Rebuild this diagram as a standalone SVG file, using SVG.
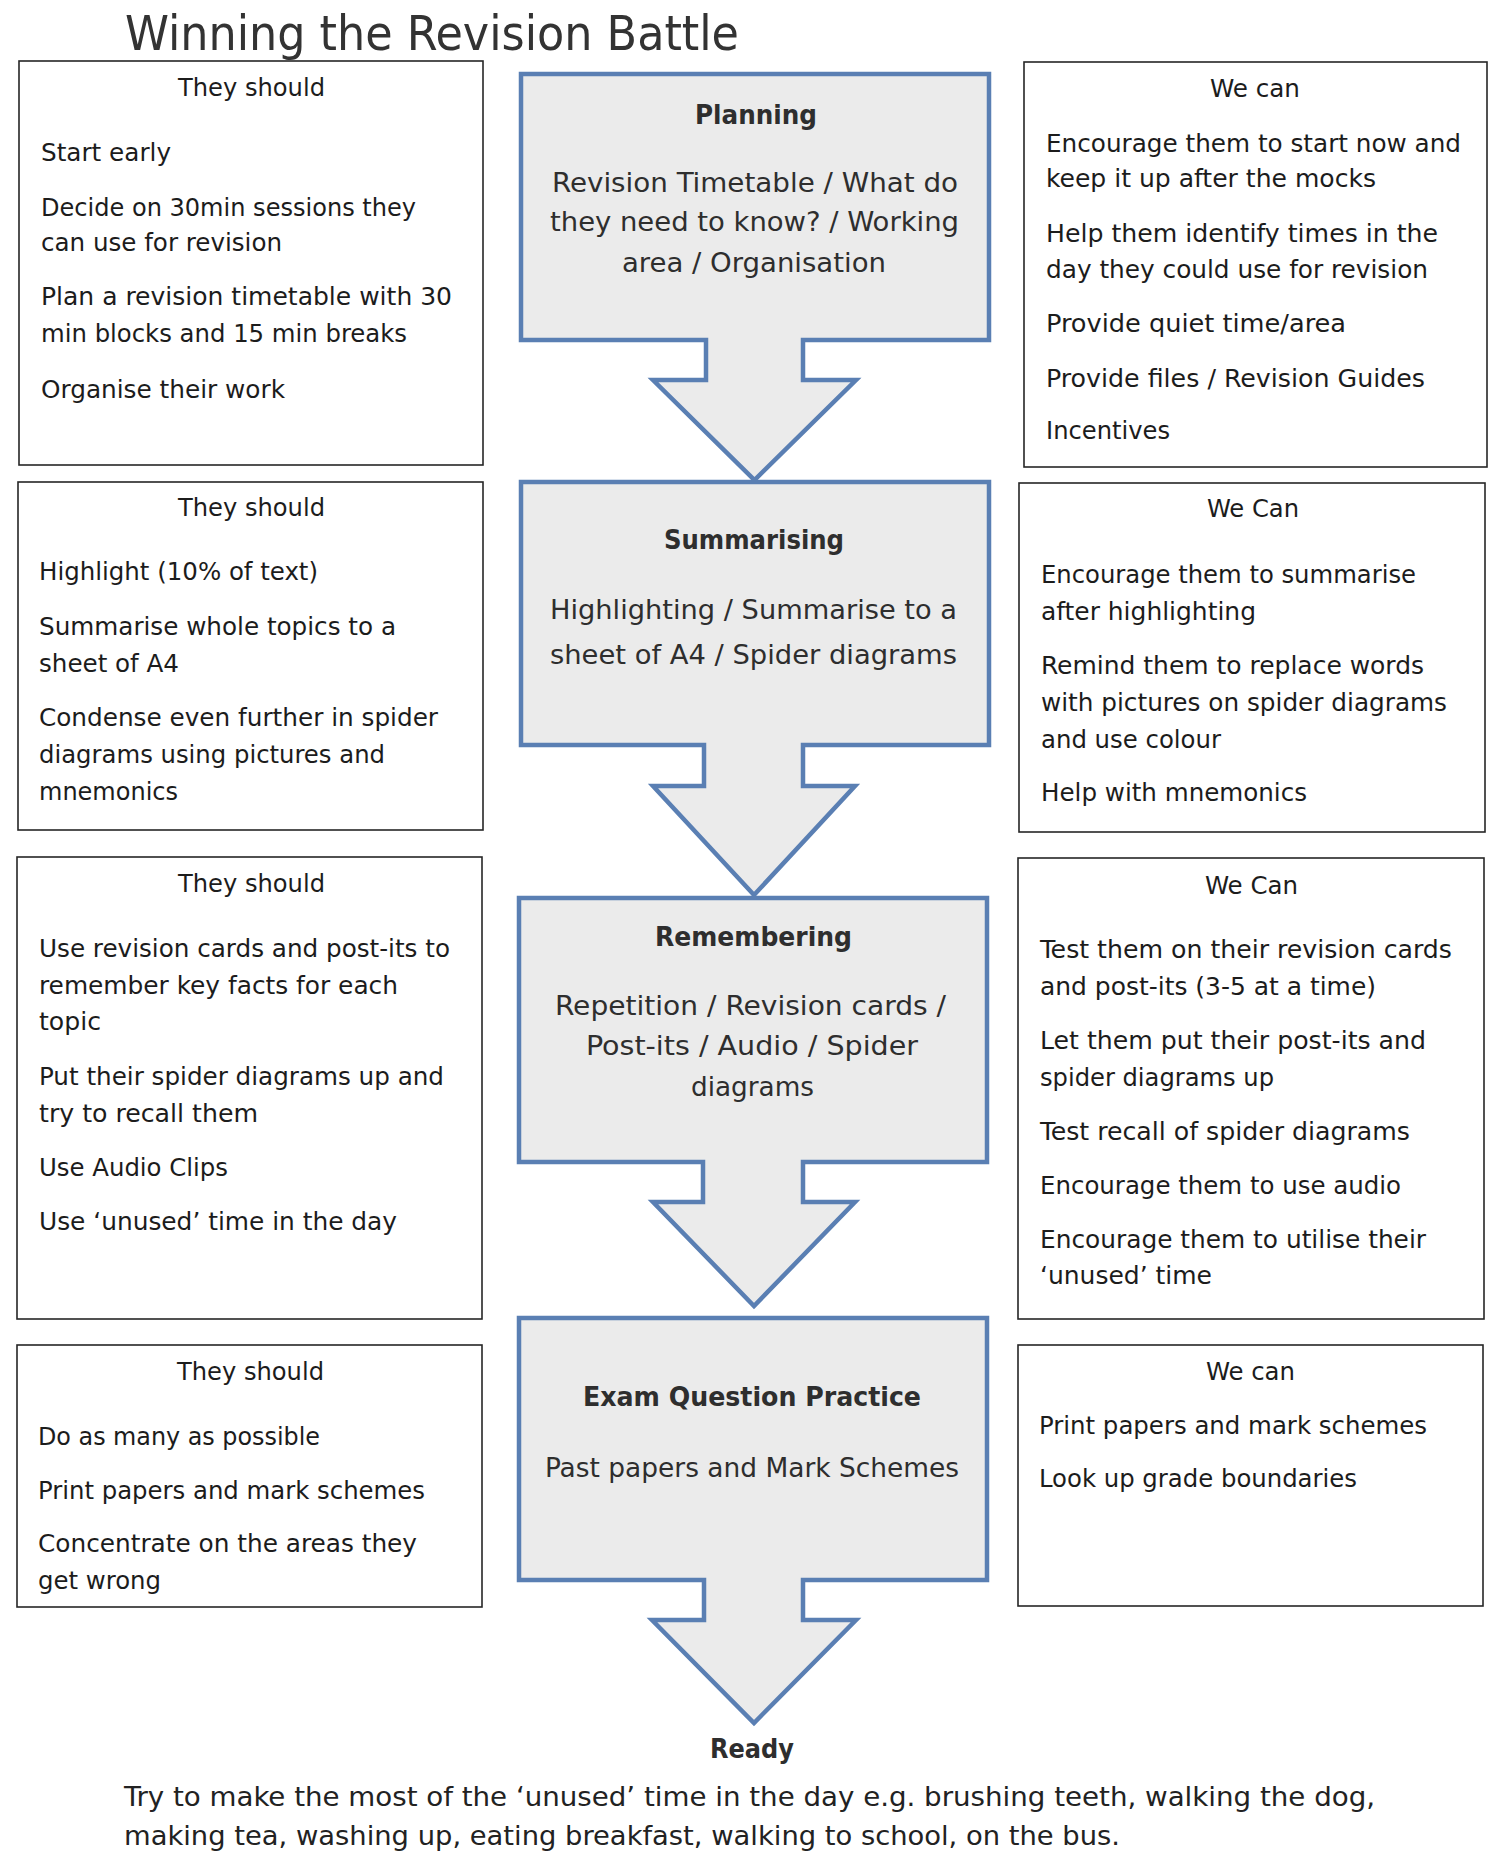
<svg xmlns="http://www.w3.org/2000/svg" width="1500" height="1869" viewBox="0 0 1500 1869">
<style>
text{font-family:"DejaVu Sans Condensed","Liberation Sans Narrow","DejaVu Sans","Liberation Sans",sans-serif;}
.box{fill:#ffffff;stroke:#262626;stroke-width:1.6;}
.arrow{fill:#ebebeb;stroke:#5a7fb3;stroke-width:4.5;stroke-linejoin:miter;}
.t{font-size:24px;fill:#1c1c1c;}
.c{font-size:26px;fill:#2e2e2e;}
.h{font-size:26px;font-weight:bold;fill:#2e2e2e;}
.title{font-size:48px;fill:#333333;}
.b{font-size:27px;fill:#222222;}
</style>
<rect width="1500" height="1869" fill="#ffffff"/>
<text class="title" x="125" y="50" textLength="614" lengthAdjust="spacingAndGlyphs">Winning the Revision Battle</text>

<g id="connectors"></g>

<g id="planning">
<path class="arrow" d="M521,74 H989 V340 H803 V380 H856 L754.5,480 L653,380 H706 V340 H521 Z"/>
<text class="h" x="695" y="124" textLength="122" lengthAdjust="spacingAndGlyphs">Planning</text>
<text class="c" x="552" y="192" textLength="406" lengthAdjust="spacingAndGlyphs">Revision Timetable / What do</text>
<text class="c" x="550" y="231" textLength="409" lengthAdjust="spacingAndGlyphs">they need to know? / Working</text>
<text class="c" x="622" y="272" textLength="264" lengthAdjust="spacingAndGlyphs">area / Organisation</text>
</g>

<g id="summarising">
<path class="arrow" d="M521,482 H989 V745 H803 V786 H855 L754,895 L653,786 H704 V745 H521 Z"/>
<text class="h" x="664" y="549" textLength="180" lengthAdjust="spacingAndGlyphs">Summarising</text>
<text class="c" x="550" y="619" textLength="407" lengthAdjust="spacingAndGlyphs">Highlighting / Summarise to a</text>
<text class="c" x="550" y="664" textLength="407" lengthAdjust="spacingAndGlyphs">sheet of A4 / Spider diagrams</text>
</g>

<g id="remembering">
<path class="arrow" d="M519,898 H987 V1162 H803 V1202 H855 L754,1306 L653,1202 H703 V1162 H519 Z"/>
<text class="h" x="655" y="946" textLength="197" lengthAdjust="spacingAndGlyphs">Remembering</text>
<text class="c" x="555" y="1015" textLength="391" lengthAdjust="spacingAndGlyphs">Repetition / Revision cards /</text>
<text class="c" x="586" y="1055" textLength="332" lengthAdjust="spacingAndGlyphs">Post-its / Audio / Spider</text>
<text class="c" x="691" y="1096" textLength="123" lengthAdjust="spacingAndGlyphs">diagrams</text>
</g>

<g id="exam-practice">
<path class="arrow" d="M519,1318 H987 V1580 H803 V1620 H856 L754,1723 L652,1620 H704 V1580 H519 Z"/>
<text class="h" x="583" y="1406" textLength="338" lengthAdjust="spacingAndGlyphs">Exam Question Practice</text>
<text class="c" x="545" y="1477" textLength="414" lengthAdjust="spacingAndGlyphs">Past papers and Mark Schemes</text>
</g>

<g id="they-should-1">
<rect class="box" x="19" y="61" width="464" height="404"/>
<text class="t" x="178" y="96" textLength="147" lengthAdjust="spacingAndGlyphs">They should</text>
<text class="t" x="41" y="161" textLength="130" lengthAdjust="spacingAndGlyphs">Start early</text>
<text class="t" x="41" y="216" textLength="375" lengthAdjust="spacingAndGlyphs">Decide on 30min sessions they</text>
<text class="t" x="41" y="251" textLength="241" lengthAdjust="spacingAndGlyphs">can use for revision</text>
<text class="t" x="41" y="305" textLength="411" lengthAdjust="spacingAndGlyphs">Plan a revision timetable with 30</text>
<text class="t" x="41" y="342" textLength="366" lengthAdjust="spacingAndGlyphs">min blocks and 15 min breaks</text>
<text class="t" x="41" y="398" textLength="244" lengthAdjust="spacingAndGlyphs">Organise their work</text>
</g>

<g id="we-can-1">
<rect class="box" x="1024" y="62" width="463" height="405"/>
<text class="t" x="1210" y="97" textLength="90" lengthAdjust="spacingAndGlyphs">We can</text>
<text class="t" x="1046" y="152" textLength="415" lengthAdjust="spacingAndGlyphs">Encourage them to start now and</text>
<text class="t" x="1046" y="187" textLength="330" lengthAdjust="spacingAndGlyphs">keep it up after the mocks</text>
<text class="t" x="1046" y="242" textLength="392" lengthAdjust="spacingAndGlyphs">Help them identify times in the</text>
<text class="t" x="1046" y="278" textLength="382" lengthAdjust="spacingAndGlyphs">day they could use for revision</text>
<text class="t" x="1046" y="332" textLength="300" lengthAdjust="spacingAndGlyphs">Provide quiet time/area</text>
<text class="t" x="1046" y="387" textLength="379" lengthAdjust="spacingAndGlyphs">Provide files / Revision Guides</text>
<text class="t" x="1046" y="439" textLength="124" lengthAdjust="spacingAndGlyphs">Incentives</text>
</g>

<g id="they-should-2">
<rect class="box" x="18" y="482" width="465" height="348"/>
<text class="t" x="178" y="516" textLength="147" lengthAdjust="spacingAndGlyphs">They should</text>
<text class="t" x="39" y="580" textLength="279" lengthAdjust="spacingAndGlyphs">Highlight (10% of text)</text>
<text class="t" x="39" y="635" textLength="357" lengthAdjust="spacingAndGlyphs">Summarise whole topics to a</text>
<text class="t" x="39" y="672" textLength="140" lengthAdjust="spacingAndGlyphs">sheet of A4</text>
<text class="t" x="39" y="726" textLength="399" lengthAdjust="spacingAndGlyphs">Condense even further in spider</text>
<text class="t" x="39" y="763" textLength="346" lengthAdjust="spacingAndGlyphs">diagrams using pictures and</text>
<text class="t" x="39" y="800" textLength="139" lengthAdjust="spacingAndGlyphs">mnemonics</text>
</g>

<g id="we-can-2">
<rect class="box" x="1019" y="483" width="466" height="349"/>
<text class="t" x="1207" y="517" textLength="92" lengthAdjust="spacingAndGlyphs">We Can</text>
<text class="t" x="1041" y="583" textLength="375" lengthAdjust="spacingAndGlyphs">Encourage them to summarise</text>
<text class="t" x="1041" y="620" textLength="215" lengthAdjust="spacingAndGlyphs">after highlighting</text>
<text class="t" x="1041" y="674" textLength="383" lengthAdjust="spacingAndGlyphs">Remind them to replace words</text>
<text class="t" x="1041" y="711" textLength="406" lengthAdjust="spacingAndGlyphs">with pictures on spider diagrams</text>
<text class="t" x="1041" y="748" textLength="180" lengthAdjust="spacingAndGlyphs">and use colour</text>
<text class="t" x="1041" y="801" textLength="266" lengthAdjust="spacingAndGlyphs">Help with mnemonics</text>
</g>

<g id="they-should-3">
<rect class="box" x="17" y="857" width="465" height="462"/>
<text class="t" x="178" y="892" textLength="147" lengthAdjust="spacingAndGlyphs">They should</text>
<text class="t" x="39" y="957" textLength="411" lengthAdjust="spacingAndGlyphs">Use revision cards and post-its to</text>
<text class="t" x="39" y="994" textLength="359" lengthAdjust="spacingAndGlyphs">remember key facts for each</text>
<text class="t" x="39" y="1030" textLength="62" lengthAdjust="spacingAndGlyphs">topic</text>
<text class="t" x="39" y="1085" textLength="405" lengthAdjust="spacingAndGlyphs">Put their spider diagrams up and</text>
<text class="t" x="39" y="1122" textLength="219" lengthAdjust="spacingAndGlyphs">try to recall them</text>
<text class="t" x="39" y="1176" textLength="189" lengthAdjust="spacingAndGlyphs">Use Audio Clips</text>
<text class="t" x="39" y="1230" textLength="358" lengthAdjust="spacingAndGlyphs">Use ‘unused’ time in the day</text>
</g>

<g id="we-can-3">
<rect class="box" x="1018" y="858" width="466" height="461"/>
<text class="t" x="1205" y="894" textLength="93" lengthAdjust="spacingAndGlyphs">We Can</text>
<text class="t" x="1040" y="958" textLength="412" lengthAdjust="spacingAndGlyphs">Test them on their revision cards</text>
<text class="t" x="1040" y="995" textLength="336" lengthAdjust="spacingAndGlyphs">and post-its (3-5 at a time)</text>
<text class="t" x="1040" y="1049" textLength="386" lengthAdjust="spacingAndGlyphs">Let them put their post-its and</text>
<text class="t" x="1040" y="1086" textLength="234" lengthAdjust="spacingAndGlyphs">spider diagrams up</text>
<text class="t" x="1040" y="1140" textLength="370" lengthAdjust="spacingAndGlyphs">Test recall of spider diagrams</text>
<text class="t" x="1040" y="1194" textLength="361" lengthAdjust="spacingAndGlyphs">Encourage them to use audio</text>
<text class="t" x="1040" y="1248" textLength="386" lengthAdjust="spacingAndGlyphs">Encourage them to utilise their</text>
<text class="t" x="1040" y="1284" textLength="172" lengthAdjust="spacingAndGlyphs">‘unused’ time</text>
</g>

<g id="they-should-4">
<rect class="box" x="17" y="1345" width="465" height="262"/>
<text class="t" x="177" y="1380" textLength="147" lengthAdjust="spacingAndGlyphs">They should</text>
<text class="t" x="38" y="1445" textLength="282" lengthAdjust="spacingAndGlyphs">Do as many as possible</text>
<text class="t" x="38" y="1499" textLength="387" lengthAdjust="spacingAndGlyphs">Print papers and mark schemes</text>
<text class="t" x="38" y="1552" textLength="379" lengthAdjust="spacingAndGlyphs">Concentrate on the areas they</text>
<text class="t" x="38" y="1589" textLength="123" lengthAdjust="spacingAndGlyphs">get wrong</text>
</g>

<g id="we-can-4">
<rect class="box" x="1018" y="1345" width="465" height="261"/>
<text class="t" x="1206" y="1380" textLength="89" lengthAdjust="spacingAndGlyphs">We can</text>
<text class="t" x="1039" y="1434" textLength="388" lengthAdjust="spacingAndGlyphs">Print papers and mark schemes</text>
<text class="t" x="1039" y="1487" textLength="318" lengthAdjust="spacingAndGlyphs">Look up grade boundaries</text>
</g>

<g id="ready">
<text class="h" x="710" y="1758" textLength="84" lengthAdjust="spacingAndGlyphs">Ready</text>
</g>

<g id="footer">
<text class="b" x="124" y="1806" textLength="1251" lengthAdjust="spacingAndGlyphs">Try to make the most of the ‘unused’ time in the day e.g. brushing teeth, walking the dog,</text>
<text class="b" x="124" y="1845" textLength="996" lengthAdjust="spacingAndGlyphs">making tea, washing up, eating breakfast, walking to school, on the bus.</text>
</g>
</svg>
